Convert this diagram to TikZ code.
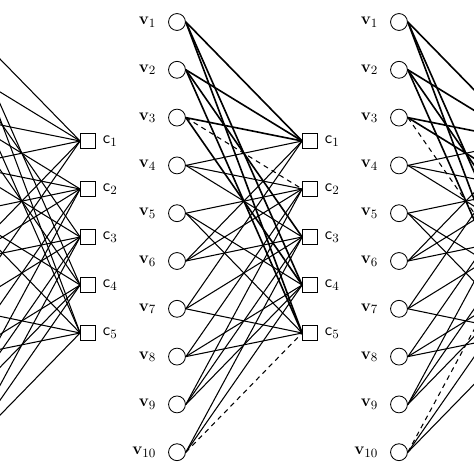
\documentclass[tikz,border=0pt]{standalone}
\usepackage{tikz}
\usetikzlibrary{calc, positioning}
\tikzset{
    var node/.style={draw, circle, inner sep=0pt, minimum size=12pt, line width=0.6pt},
    chk node/.style={draw, rectangle, inner sep=0pt, minimum size=10.6pt, line width=0.6pt},
    tanner edge/.style={line width=0.75pt},
    heavy edge/.style={line width=1.15pt},
    msg edge/.style={line width=0.75pt, dash pattern=on 3.5pt off 3pt},
    lbl/.style={font=\fontsize{12.5}{14}\selectfont},
    % labels only where the panel shows them
    vlab a/.style={}, clab c/.style={},
    vlab b/.style={label={[lbl, label distance=5pt]left:$\mathbf{v}_{#1}$}},
    vlab c/.style={label={[lbl, label distance=5pt]left:$\mathbf{v}_{#1}$}},
    clab a/.style={label={[lbl, label distance=1.5pt]right:$\mathsf{c}_{#1}$}},
    clab b/.style={label={[lbl, label distance=1.5pt]right:$\mathsf{c}_{#1}$}},
    % heavier edges out of v1, v2, v3
    heavy b-1/.style={heavy edge}, heavy b-2/.style={heavy edge}, heavy b-3/.style={heavy edge},
    heavy c-1/.style={heavy edge}, heavy c-2/.style={heavy edge}, heavy c-3/.style={heavy edge},
    % dashed edges, panel-var-check
    edge b-3-2/.style={msg edge}, edge b-10-5/.style={msg edge},
    edge c-3-4/.style={msg edge}, edge c-10-3/.style={msg edge},
}
\begin{document}
\begin{tikzpicture}[x=0.025cm, y=-0.025cm]

\useasboundingbox (0,0) rectangle (474,474);
\clip (0,0) rectangle (474,474);

% three copies of the same graph, shifted by 222 px
\foreach \p/\dx in {a/-222, b/0, c/222}{
    \foreach \i in {1,...,10}{
        \node[var node, vlab \p=\i] (v\p\i) at (177+\dx, 22+47.8*\i-47.8) {};
    }
    \foreach \j in {1,...,5}{
        \node[chk node, clab \p=\j] (c\p\j) at (310+\dx, 141+48*\j-48) {};
    }
    % check j : its variable nodes
    \foreach \j/\vlist in {1/{1,2,3,4,6,7}, 2/{3,4,5,6,8,9}, 3/{2,4,6,7,9,10},
                           4/{1,3,5,8,9,10}, 5/{1,2,5,7,8,10}}{
        \foreach \i in \vlist{
            \draw[tanner edge, heavy \p-\i/.try, edge \p-\i-\j/.try]
                (v\p\i.east) -- (c\p\j.west);
        }
    }
}

\end{tikzpicture}
\end{document}
